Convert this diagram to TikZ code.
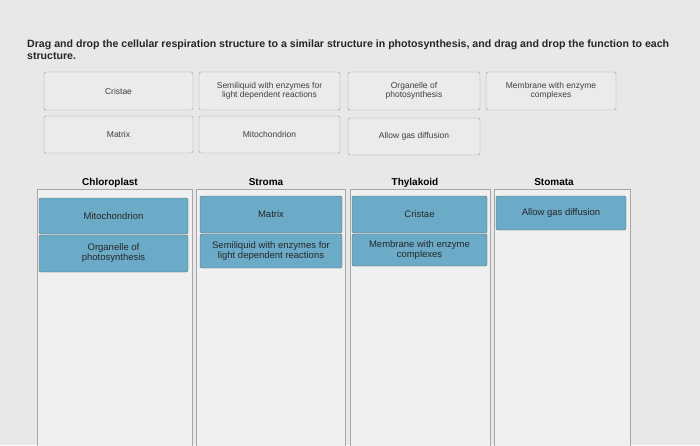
\documentclass[tikz,border=0pt]{standalone}
\usepackage{fontspec}
\setmainfont{Liberation Sans}
\begin{document}
\begin{tikzpicture}[x=1pt,y=-1pt,
  src/.style={draw=gray!80,fill=white!92!black,rounded corners=2pt,align=center,font=\fontsize{8.5}{9}\selectfont,text=black!75},
  tile/.style={draw=black!60,fill=blue!30!cyan!45!gray!80,rounded corners=2pt,align=center,font=\fontsize{9.5}{10}\selectfont,text=black!85},
  col/.style={draw=gray!70,fill=white!94!black},
  hdr/.style={anchor=base,font=\bfseries\fontsize{10}{11}\selectfont}]
\fill[black!9] (0,0) rectangle (700,445);
\useasboundingbox (0,0) rectangle (700,445);
\node[anchor=north west,align=left,inner sep=0pt,font=\bfseries\fontsize{10.6}{12}\selectfont,text=black!85] (title) at (27,40) {Drag and drop the cellular respiration structure to a similar structure in photosynthesis, and drag and drop the function to each\\structure.};
\node[src,minimum width=149,minimum height=38] (s1) at (118.5,91) {Cristae};
\node[src,minimum width=141,minimum height=38] (s2) at (269.5,91) {Semiliquid with enzymes for\\light dependent reactions};
\node[src,minimum width=132,minimum height=38] (s3) at (414,91) {Organelle of\\photosynthesis};
\node[src,minimum width=130,minimum height=38] (s4) at (551,91) {Membrane with enzyme\\complexes};
\node[src,minimum width=149,minimum height=37] (s5) at (118.5,134.5) {Matrix};
\node[src,minimum width=141,minimum height=37] (s6) at (269.5,134.5) {Mitochondrion};
\node[src,minimum width=132,minimum height=37] (s7) at (414,136.5) {Allow gas diffusion};
\node[hdr] (h1) at (110,185) {Chloroplast};
\node[hdr] (h2) at (266,185) {Stroma};
\node[hdr] (h3) at (415,185) {Thylakoid};
\node[hdr] (h4) at (554,185) {Stomata};
\draw[col] (37,189) rectangle (192,446);
\draw[col] (196,189) rectangle (345,446);
\draw[col] (350,189) rectangle (490,446);
\draw[col] (494,189) rectangle (630,446);
\node[tile,minimum width=149,minimum height=36] (a1) at (113.5,216) {Mitochondrion};
\node[tile,minimum width=149,minimum height=37] (a2) at (113.5,253.5) {Organelle of\\photosynthesis};
\node[tile,minimum width=142,minimum height=37] (b1) at (271,214.5) {Matrix};
\node[tile,minimum width=142,minimum height=34] (b2) at (271,251) {Semiliquid with enzymes for\\light dependent reactions};
\node[tile,minimum width=135,minimum height=37] (c1) at (419.5,214.5) {Cristae};
\node[tile,minimum width=135,minimum height=32] (c2) at (419.5,250) {Membrane with enzyme\\complexes};
\node[tile,minimum width=130,minimum height=34] (d1) at (561,213) {Allow gas diffusion};
\end{tikzpicture}
\end{document}
